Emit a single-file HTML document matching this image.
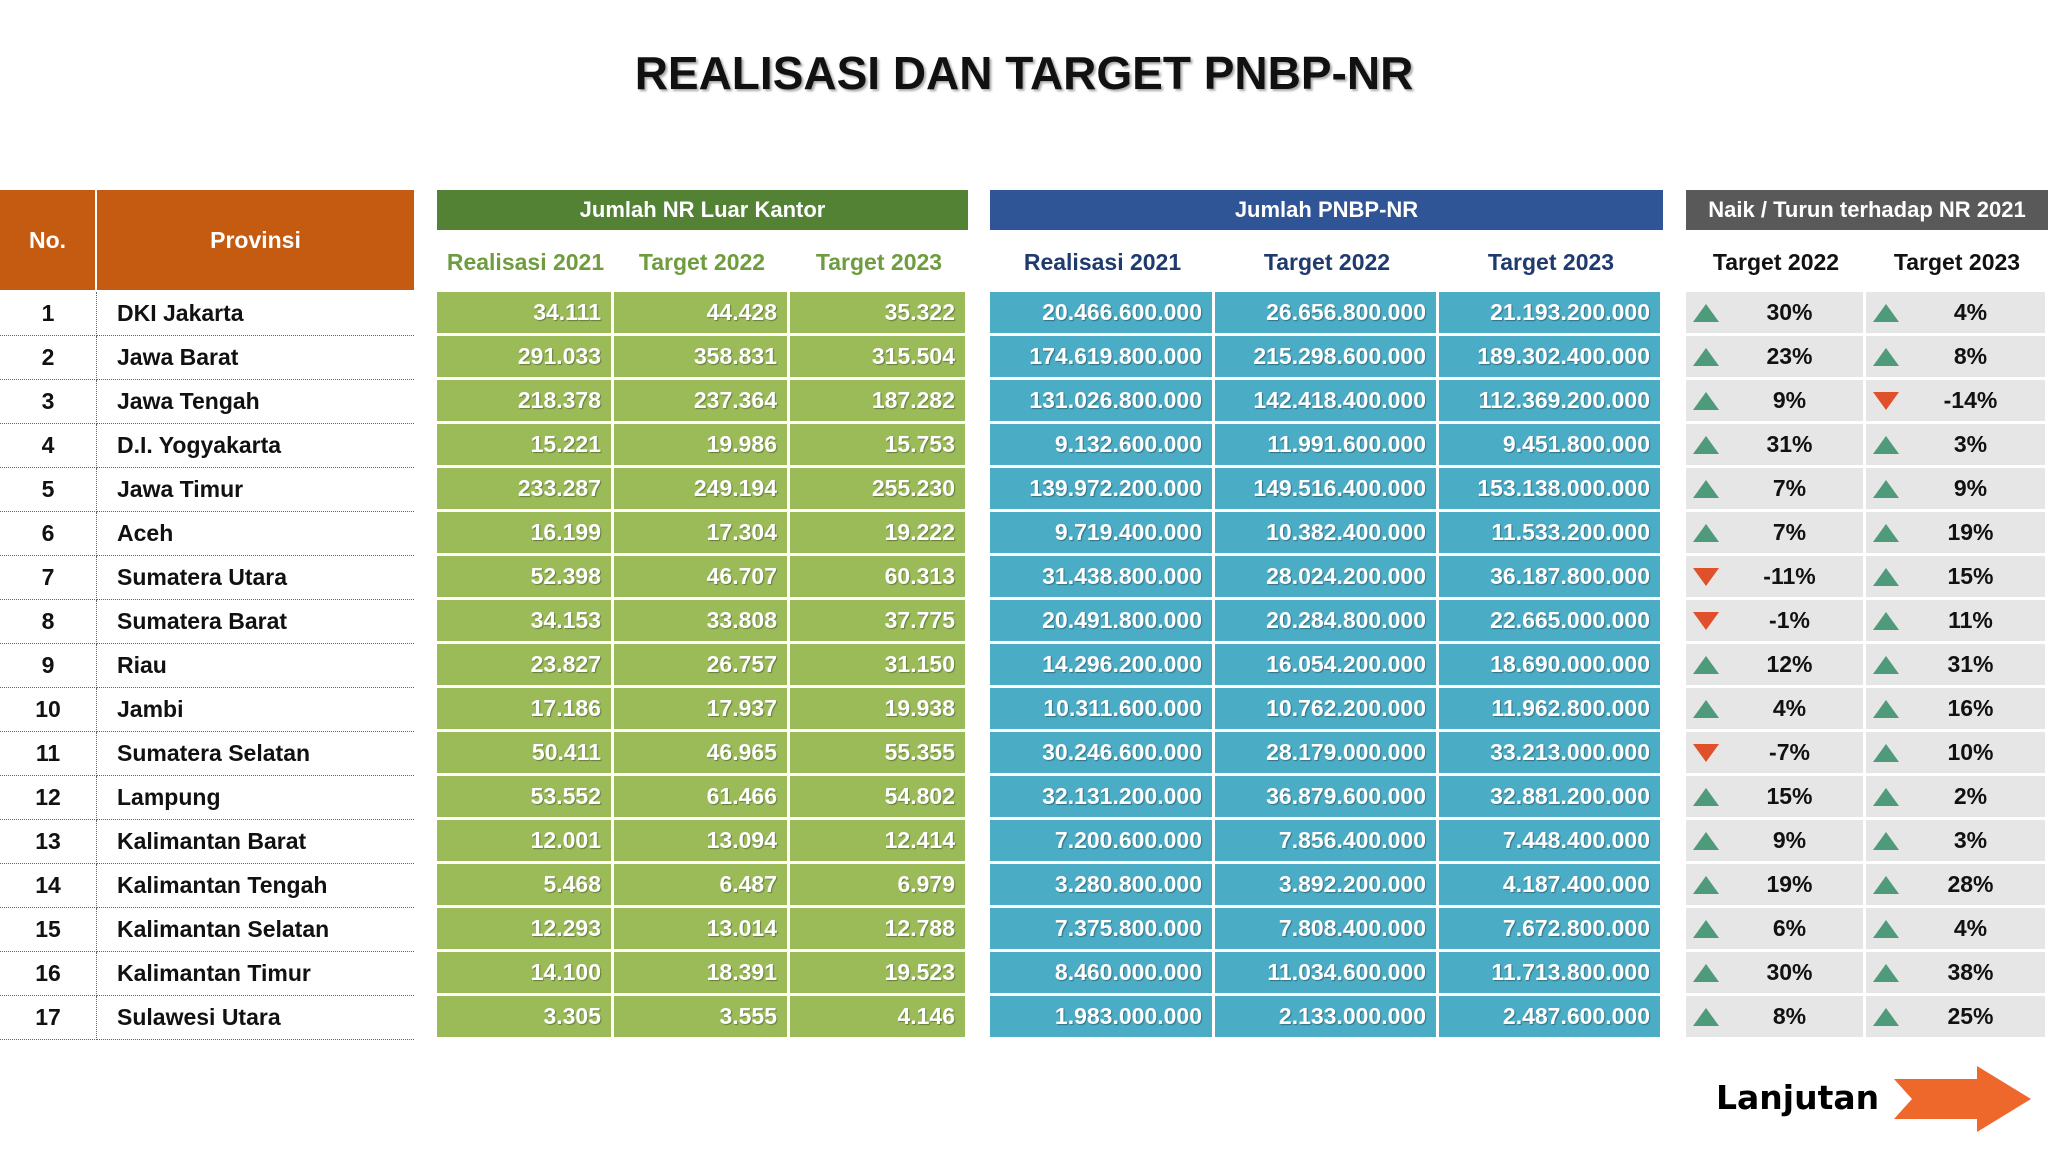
<!DOCTYPE html>
<html><head><meta charset="utf-8"><style>
body{margin:0;width:2048px;height:1152px;background:#fff;position:relative;overflow:hidden;font-family:"Liberation Sans Narrow","Liberation Sans",sans-serif;}
.a{position:absolute;box-sizing:border-box;}
.c{display:flex;align-items:center;justify-content:center;font-weight:bold;}
.r{justify-content:flex-end;padding-right:10px;color:#fff;text-shadow:1px 1px 1px rgba(0,0,0,.35);}
</style></head><body>
<div class="a c" style="left:0;width:2048px;top:40px;height:66px;font-family:'Liberation Sans',sans-serif;font-size:46px;color:#111;text-shadow:2px 2px 2px #aaa;">REALISASI DAN TARGET PNBP-NR</div>
<div id="t"></div>
<div class="a" style="left:1716px;top:1078px;font-family:'DejaVu Sans',sans-serif;font-weight:bold;font-size:33px;color:#000;">Lanjutan</div>
<svg class="a" style="left:1890px;top:1066px" width="145" height="66"><polygon points="4,13 87,13 87,0 141,33 87,66 87,53 4,53 22,33" fill="#EE672B"/></svg>
<script>
const provinces=["DKI Jakarta","Jawa Barat","Jawa Tengah","D.I. Yogyakarta","Jawa Timur","Aceh","Sumatera Utara","Sumatera Barat","Riau","Jambi","Sumatera Selatan","Lampung","Kalimantan Barat","Kalimantan Tengah","Kalimantan Selatan","Kalimantan Timur","Sulawesi Utara"];
const nrReal21=["34.111","291.033","218.378","15.221","233.287","16.199","52.398","34.153","23.827","17.186","50.411","53.552","12.001","5.468","12.293","14.100","3.305"];
const nrTarget22=["44.428","358.831","237.364","19.986","249.194","17.304","46.707","33.808","26.757","17.937","46.965","61.466","13.094","6.487","13.014","18.391","3.555"];
const nrTarget23=["35.322","315.504","187.282","15.753","255.230","19.222","60.313","37.775","31.150","19.938","55.355","54.802","12.414","6.979","12.788","19.523","4.146"];
const pnReal21=["20.466.600.000","174.619.800.000","131.026.800.000","9.132.600.000","139.972.200.000","9.719.400.000","31.438.800.000","20.491.800.000","14.296.200.000","10.311.600.000","30.246.600.000","32.131.200.000","7.200.600.000","3.280.800.000","7.375.800.000","8.460.000.000","1.983.000.000"];
const pnTarget22=["26.656.800.000","215.298.600.000","142.418.400.000","11.991.600.000","149.516.400.000","10.382.400.000","28.024.200.000","20.284.800.000","16.054.200.000","10.762.200.000","28.179.000.000","36.879.600.000","7.856.400.000","3.892.200.000","7.808.400.000","11.034.600.000","2.133.000.000"];
const pnTarget23=["21.193.200.000","189.302.400.000","112.369.200.000","9.451.800.000","153.138.000.000","11.533.200.000","36.187.800.000","22.665.000.000","18.690.000.000","11.962.800.000","33.213.000.000","32.881.200.000","7.448.400.000","4.187.400.000","7.672.800.000","11.713.800.000","2.487.600.000"];
const chg22=[30,23,9,31,7,7,-11,-1,12,4,-7,15,9,19,6,30,8];
const chg23=[4,8,-14,3,9,19,15,11,31,16,10,2,3,28,4,38,25];
const T=document.getElementById('t');
function box(x,y,w,h,txt,st,cls,name,inter){const d=document.createElement('div');d.className='a c '+(cls||'');d.style.cssText=`left:${x}px;top:${y}px;width:${w}px;height:${h}px;font-size:23px;`+(st||'');d.textContent=txt;


T.appendChild(d);return d;}
const Y0=292,RH=44;
box(0,190,97,100,'No.','background:#C55A11;color:#fff;border-right:2px solid #fff;','','header-no');
box(97,190,317,100,'Provinsi','background:#C55A11;color:#fff;','','header-provinsi');
box(437,190,531,40,'Jumlah NR Luar Kantor','background:#548235;color:#fff;font-size:22px;','','header-nr');
box(990,190,673,40,'Jumlah PNBP-NR','background:#2F5597;color:#fff;font-size:22px;','','header-pnbp');
box(1686,190,362,40,'Naik / Turun terhadap NR 2021','background:#595959;color:#fff;font-size:22px;','','header-change');
const gx=[437,614,790,968],bx=[990,1215,1439,1663],px=[1686,1866,2048];
const sub=['Realisasi 2021','Target 2022','Target 2023'];
for(let j=0;j<3;j++){
box(gx[j],240,gx[j+1]-gx[j],45,sub[j],'color:#6E9C3F;','','subheader-nr-'+j);
box(bx[j],240,bx[j+1]-bx[j],45,sub[j],'color:#1F3A6E;','','subheader-pnbp-'+j);
if(j>0)box(px[j-1],240,px[j]-px[j-1],45,sub[j],'color:#111;','','subheader-change-'+j);
}
const nr=[nrReal21,nrTarget22,nrTarget23],pn=[pnReal21,pnTarget22,pnTarget23],ch=[chg22,chg23];
for(let i=0;i<provinces.length;i++){
const y=Y0+i*RH;
box(0,y,97,RH,String(i+1),'color:#111;border-bottom:1px dotted #666;border-right:1px dotted #666;','','row-no');
box(97,y,317,RH,provinces[i],'justify-content:flex-start;padding-left:20px;color:#111;border-bottom:1px dotted #666;','','province-name');
for(let j=0;j<3;j++){
box(gx[j],y,gx[j+1]-gx[j]-3,RH-3,nr[j][i],'background:#9BBB59;','r','nr-value');
box(bx[j],y,bx[j+1]-bx[j]-3,RH-3,pn[j][i],'background:#4BACC6;','r','pnbp-value');
}
for(let k=0;k<2;k++){
const v=ch[k][i],x=px[k],w=px[k+1]-px[k]-3;
const d=box(x,y,w,RH-3,'','background:#E6E6E6;color:#111;','','change-cell');
const s=document.createElement('div');s.textContent=v+'%';s.style.cssText='position:absolute;left:0;text-align:center;padding-left:30px;box-sizing:border-box;width:'+w+'px';


d.appendChild(s);
const tr=document.createElementNS('http://www.w3.org/2000/svg','svg');tr.setAttribute('width','28');tr.setAttribute('height','22');tr.style.cssText='position:absolute;left:6px;top:10px';
tr.innerHTML=v>=0?'<polygon points="14,2 27,20 1,20" fill="#4E9A7A"/>':'<polygon points="1,2 27,2 14,20" fill="#E0502A"/>';


d.appendChild(tr);
}
}
</script>
</body></html>
